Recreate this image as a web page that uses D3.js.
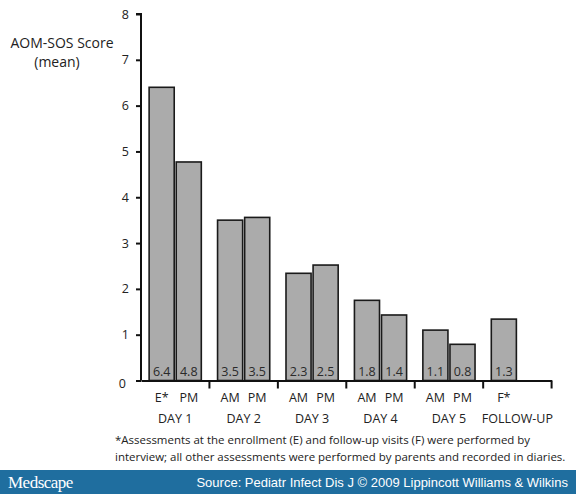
<!DOCTYPE html>
<html><head><meta charset="utf-8">
<script src="https://cdn.jsdelivr.net/npm/d3@7"></script>
<style>
body{margin:0;background:#fff;}
svg{display:block;font-family:"Open Sans","Noto Sans",sans-serif;}
</style></head>
<body><svg id="c" width="576" height="494"></svg>
<script>
const groups = ["DAY 1","DAY 2","DAY 3","DAY 4","DAY 5","FOLLOW-UP"];
const slots = ["a","b"];
const categories = ["E*","PM","AM","PM","AM","PM","AM","PM","AM","PM","F*"];
const barGroup = ["DAY 1","DAY 1","DAY 2","DAY 2","DAY 3","DAY 3","DAY 4","DAY 4","DAY 5","DAY 5","FOLLOW-UP"];
const barSlot = ["a","b","a","b","a","b","a","b","a","b","a"];
const values = [6.40,4.77,3.50,3.56,2.34,2.52,1.75,1.43,1.10,0.79,1.34];
const valueLabels = ["6.4","4.8","3.5","3.5","2.3","2.5","1.8","1.4","1.1","0.8","1.3"];
const yTicks = [0,1,2,3,4,5,6,7,8];

const svg = d3.select("#c");
const y = d3.scaleLinear().domain([0,8]).range([380.5,14]);
const x = d3.scaleBand().domain(groups).range([141,551.6]).padding(0);
const xi = d3.scaleBand().domain(slots).range([0,x.bandwidth()]).paddingInner(0.074).paddingOuter(0.3);

const data = values.map((v,i)=>({v,lab:valueLabels[i],cat:categories[i],g:barGroup[i],s:barSlot[i]}));

// bars
svg.append("g").selectAll("rect").data(data).join("rect")
  .attr("x",d=>x(d.g)+xi(d.s)).attr("width",xi.bandwidth())
  .attr("y",d=>y(d.v)).attr("height",d=>y(0)-y(d.v))
  .attr("fill","#ababab").attr("stroke","#1a1a1a").attr("stroke-width",1.6);

// value labels
svg.append("g").selectAll("text").data(data).join("text")
  .attr("x",d=>x(d.g)+xi(d.s)+xi.bandwidth()/2).attr("y",y(0)-5)
  .attr("text-anchor","middle").attr("font-size",12.5).attr("fill","#2a2a2a")
  .text(d=>d.lab);

// y axis
const ya = svg.append("g").attr("transform","translate(141,0)")
  .call(d3.axisLeft(y).tickValues(yTicks).tickSize(5).tickPadding(7).tickFormat(d3.format("d")));
ya.select(".domain").attr("stroke","#111").attr("stroke-width",2).attr("d","M0,"+y(0)+"V"+y(8)+"H-5");
ya.selectAll(".tick line").attr("stroke","#111").attr("stroke-width",2);
ya.selectAll(".tick text").attr("font-size",12.5).attr("fill","#222").attr("font-family","'Open Sans','Noto Sans',sans-serif");
ya.selectAll(".tick").filter(d=>d===0).select("text").attr("dx",-3).attr("dy","0.55em");

// x axis baseline with group separators
const xa = svg.append("g").attr("transform","translate(0,"+y(0)+")")
  .call(d3.axisBottom(x).tickValues([]).tickSizeOuter(0));
xa.select(".domain").attr("stroke","#111").attr("stroke-width",2);
svg.append("g").selectAll("line").data(groups).join("line")
  .attr("x1",d=>x(d)+x.bandwidth()).attr("x2",d=>x(d)+x.bandwidth())
  .attr("y1",y(0)).attr("y2",y(0)+8).attr("stroke","#111").attr("stroke-width",2);

// category labels
svg.append("g").selectAll("text").data(data).join("text")
  .attr("x",d=>x(d.g)+xi(d.s)+xi.bandwidth()/2).attr("y",y(0)+21)
  .attr("text-anchor","middle").attr("font-size",12.5).attr("fill","#222")
  .text(d=>d.cat);
// group labels
svg.append("g").selectAll("text").data(groups).join("text")
  .attr("x",d=>x(d)+x.bandwidth()/2).attr("y",y(0)+42)
  .attr("text-anchor","middle").attr("font-size",12.5).attr("fill","#222")
  .text(d=>d);

// y title
svg.append("text").attr("x",62).attr("y",48).attr("text-anchor","middle")
  .attr("font-size",14).attr("fill","#222").text("AOM-SOS Score");
svg.append("text").attr("x",57).attr("y",67).attr("text-anchor","middle")
  .attr("font-size",14).attr("fill","#222").text("(mean)");

// footnote, fitted to the reference width
const fn = svg.append("g").attr("font-size",12).attr("fill","#222");
fn.append("text").attr("x",115).attr("y",444)
  .text("*Assessments at the enrollment (E) and follow-up visits (F) were performed by");
const l2 = fn.append("text").attr("x",115).attr("y",461)
  .text("interview; all other assessments were performed by parents and recorded in diaries.");
const w2 = l2.node().getComputedTextLength();
fn.attr("font-size", 12 * 451 / w2);

// footer band
svg.append("rect").attr("x",0).attr("y",470).attr("width",576).attr("height",24).attr("fill","#1f6e9f");
svg.append("text").attr("x",8).attr("y",488).attr("font-family","'Liberation Serif','DejaVu Serif',serif")
  .attr("font-size",17).attr("fill","#fff").attr("letter-spacing",-0.5).text("Medscape");
svg.append("text").attr("x",568).attr("y",487).attr("text-anchor","end")
  .attr("font-family","'Liberation Sans',Arial,sans-serif").attr("font-size",13).attr("fill","#fff")
  .text("Source: Pediatr Infect Dis J © 2009 Lippincott Williams & Wilkins");
</script></body></html>
